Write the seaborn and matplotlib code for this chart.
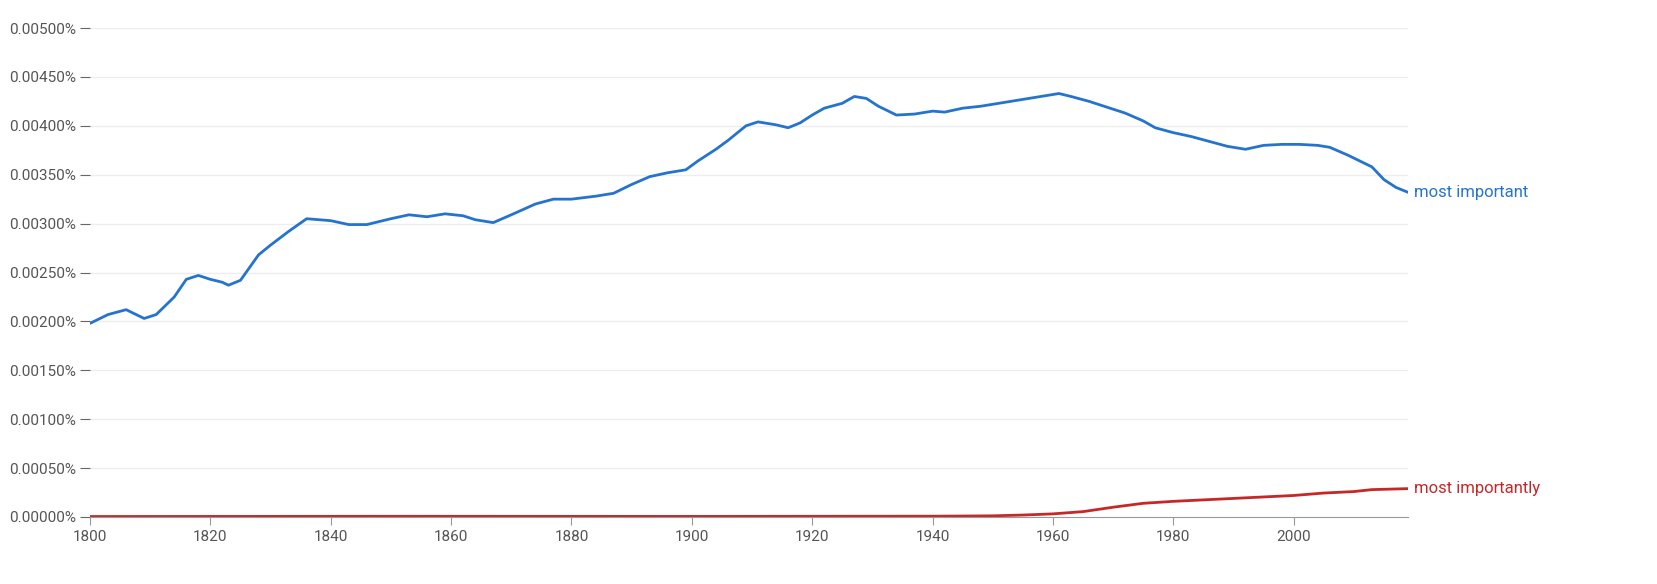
import numpy as np
import pandas as pd
import matplotlib
matplotlib.use("Agg")
import matplotlib.pyplot as plt
import seaborn as sns

blue_years = [1800, 1803, 1806, 1809, 1811, 1814, 1816, 1818, 1820, 1822, 1823, 1825, 1828, 1830,
              1833, 1836, 1840, 1843, 1846, 1850, 1853, 1856, 1859, 1862, 1864, 1867, 1870, 1874,
              1877, 1880, 1884, 1887, 1890, 1893, 1896, 1899, 1901, 1904, 1906, 1909, 1911, 1914,
              1916, 1918, 1920, 1922, 1925, 1927, 1929, 1931, 1934, 1937, 1940, 1942, 1945, 1948,
              1950, 1953, 1956, 1958, 1961, 1963, 1966, 1969, 1972, 1975, 1977, 1980, 1983, 1986,
              1989, 1992, 1995, 1998, 2001, 2004, 2006, 2009, 2011, 2013, 2015, 2017, 2019]
blue_vals = [.00198, .00207, .00212, .00203, .00207, .00225, .00243, .00247, .00243, .00240, .00237,
             .00242, .00268, .00278, .00292, .00305, .00303, .00299, .00299, .00305, .00309, .00307,
             .00310, .00308, .00304, .00301, .00309, .00320, .00325, .00325, .00328, .00331, .00340,
             .00348, .00352, .00355, .00364, .00376, .00385, .00400, .00404, .00401, .00398, .00403,
             .00411, .00418, .00423, .00430, .00428, .00420, .00411, .00412, .00415, .00414, .00418,
             .00420, .00422, .00425, .00428, .00430, .00433, .00430, .00425, .00419, .00413, .00405,
             .00398, .00393, .00389, .00384, .00379, .00376, .00380, .00381, .00381, .00380, .00378,
             .00370, .00364, .00358, .00345, .00337, .00332]

red_years = [1800, 1850, 1900, 1940, 1950, 1955, 1960, 1965, 1970, 1975, 1980, 1985, 1990, 1995,
             2000, 2005, 2010, 2013, 2019]
red_vals = [0.000005, 0.000007, 0.000006, 0.000008, 0.000012, 0.00002, 0.000032, 0.000055, 0.0001,
            0.00014, 0.00016, 0.000175, 0.00019, 0.000205, 0.00022, 0.000245, 0.00026, 0.00028, 0.00029]

blue = "#2474cf"
red = "#c62828"

sns.set_style("white")
plt.rcParams["font.family"] = ["Roboto", "DejaVu Sans"]

fig = plt.figure(figsize=(16.57, 5.84), dpi=100)
ax = fig.add_axes([90 / 1657, 1 - 517 / 584, (1408 - 90) / 1657, (517 - 28) / 584])

df_b = pd.DataFrame({"year": blue_years, "v": blue_vals})
df_r = pd.DataFrame({"year": red_years, "v": red_vals})
sns.lineplot(data=df_b, x="year", y="v", ax=ax, color=blue, lw=2)
sns.lineplot(data=df_r, x="year", y="v", ax=ax, color=red, lw=2)

ax.set_xlim(1800, 2019)
ax.set_ylim(0, 0.005)
yt = np.arange(0, 0.00501, 0.0005)
ax.set_yticks(yt)
ax.set_yticklabels([f"{v:.5f}%" for v in yt])
ax.set_xticks(range(1800, 2001, 20))
ax.set_xlabel("")
ax.set_ylabel("")
for y in yt[1:]:
    ax.axhline(y, color="#eeeeee", lw=1, zorder=0)
for s in ["top", "right", "left"]:
    ax.spines[s].set_visible(False)
ax.spines["bottom"].set_color("#999999")
ax.tick_params(axis="y", left=True, length=7, color="#666666", labelsize=11, labelcolor="#555555", pad=3)
ax.tick_params(axis="x", bottom=True, length=6, color="#999999", labelsize=11, labelcolor="#555555")

ax.text(2020, blue_vals[-1], "most important", color=blue, fontsize=12, va="center", clip_on=False)
ax.text(2020, red_vals[-1], "most importantly", color=red, fontsize=12, va="center", clip_on=False)

fig.savefig("out.png", dpi=100)
